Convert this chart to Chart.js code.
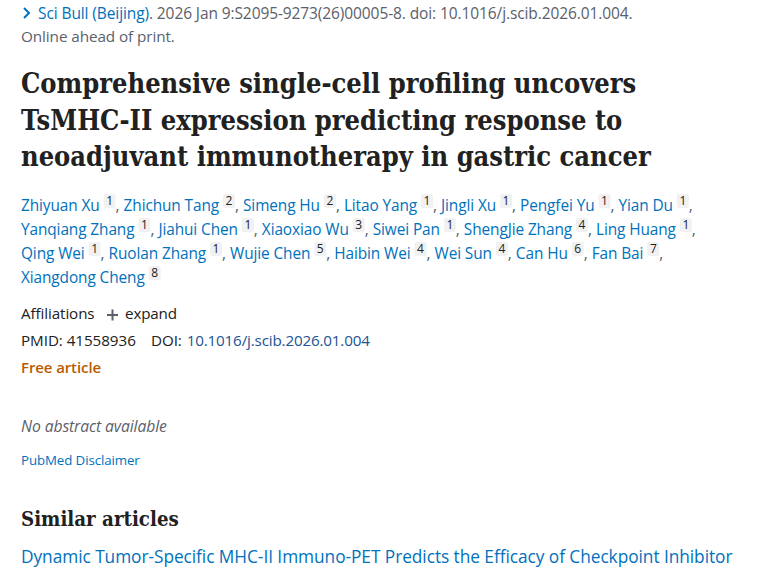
<!DOCTYPE html>
<html>
<head>
<meta charset="utf-8">
<title>Comprehensive single-cell profiling uncovers TsMHC-II expression</title>
<script src="https://cdn.jsdelivr.net/npm/chart.js@4"></script>
<style>
html, body { margin: 0; padding: 0; background: #fff; }
canvas { display: block; }
</style>
</head>
<body>
<canvas id="myChart" width="760" height="570"></canvas>
<script>
// TEXT CONTENT (the reference is an article page, it has no plotted series)
const citationJournal = "Sci Bull (Beijing)";
const citationRest = ". 2026 Jan 9:S2095-9273(26)00005-8. doi: 10.1016/j.scib.2026.01.004.";
const citationNote = "Online ahead of print.";
const titleLines = [
    "Comprehensive single-cell profiling uncovers",
    "TsMHC-II expression predicting response to",
    "neoadjuvant immunotherapy in gastric cancer",
];
const authorNames = [
    ["Zhiyuan Xu", "Zhichun Tang", "Simeng Hu", "Litao Yang", "Jingli Xu", "Pengfei Yu", "Yian Du"],
    ["Yanqiang Zhang", "Jiahui Chen", "Xiaoxiao Wu", "Siwei Pan", "ShengJie Zhang", "Ling Huang"],
    ["Qing Wei", "Ruolan Zhang", "Wujie Chen", "Haibin Wei", "Wei Sun", "Can Hu", "Fan Bai"],
    ["Xiangdong Cheng"],
];
const authorAffils = [
    ["1", "2", "2", "1", "1", "1", "1"],
    ["1", "1", "3", "1", "4", "1"],
    ["1", "1", "5", "4", "4", "6", "7"],
    ["8"],
];

const BODY = '"Open Sans", sans-serif';
const SERIF = '"DejaVu Serif Condensed", "DejaVu Serif", serif';
const LINK = "#0071bc";
const INK = "#212121";
const GREY = "#5b616b";

function put(ctx, text, x, y, font, color, spacing) {
    ctx.font = font;
    ctx.fillStyle = color;
    ctx.letterSpacing = (spacing || 0) + "px";
    ctx.fillText(text, x, y);
    return x + ctx.measureText(text).width;
}

function drawAuthors(ctx) {
    authorNames.forEach(function (row, r) {
        const y = 211 + r * 24;
        let x = 21;
        row.forEach(function (name, i) {
            x = put(ctx, name, x, y, "15.4px " + BODY, LINK, -0.1);
            ctx.fillStyle = "#f1f1f1";
            ctx.beginPath();
            ctx.roundRect(x + 4, y - 17, 12, 14, 2);
            ctx.fill();
            ctx.textAlign = "center";
            put(ctx, authorAffils[r][i], x + 10, y - 6, "12px " + BODY, INK);
            ctx.textAlign = "left";
            x += 16;
            const isLast = r === authorNames.length - 1 && i === row.length - 1;
            if (!isLast) {
                x = put(ctx, ",", x, y, "15.4px " + BODY, GREY);
                if (i < row.length - 1) x += 4;
            }
        });
    });
}

const pagePlugin = {
    id: "page",
    beforeDraw(chart) {
        const ctx = chart.ctx;
        ctx.save();
        ctx.fillStyle = "#fff";
        ctx.fillRect(0, 0, chart.width, chart.height);
        ctx.restore();
    },
    afterDraw(chart) {
        const ctx = chart.ctx;
        ctx.save();
        ctx.textBaseline = "alphabetic";
        ctx.textAlign = "left";

        // citation
        ctx.strokeStyle = LINK;
        ctx.lineWidth = 2;
        ctx.beginPath();
        ctx.moveTo(24, 8);
        ctx.lineTo(29, 13);
        ctx.lineTo(24, 18);
        ctx.stroke();
        let x = put(ctx, citationJournal, 38, 19, "15.5px " + BODY, LINK, -0.1);
        put(ctx, citationRest, x, 19, "15.5px " + BODY, GREY, -0.1);
        put(ctx, citationNote, 21, 42, "15.3px " + BODY, GREY, -0.1);

        // title
        titleLines.forEach(function (line, i) {
            put(ctx, line, 21, 93 + i * 36.5, "bold 27px " + SERIF, INK, 0);
        });

        drawAuthors(ctx);

        // affiliations, ids
        put(ctx, "Affiliations", 21, 319, "15.2px " + BODY, INK, -0.1);
        ctx.strokeStyle = "#5b616b";
        ctx.lineWidth = 2;
        ctx.beginPath();
        ctx.moveTo(107, 315);
        ctx.lineTo(118, 315);
        ctx.moveTo(112.5, 309.5);
        ctx.lineTo(112.5, 320.5);
        ctx.stroke();
        put(ctx, "expand", 125, 319, "15.2px " + BODY, INK, -0.15);
        put(ctx, "PMID: 41558936", 21, 346, "15.2px " + BODY, INK, -0.05);
        x = put(ctx, "DOI:", 151, 346, "15.2px " + BODY, INK, -0.1);
        put(ctx, "10.1016/j.scib.2026.01.004", x + 5, 346, "15.2px " + BODY, "#205493", -0.16);
        put(ctx, "Free article", 21, 373, "600 15px " + BODY, "#b85c00", -0.1);

        // abstract
        put(ctx, "No abstract available", 21, 432, "italic 15.7px " + BODY, GREY, -0.1);
        put(ctx, "PubMed Disclaimer", 21, 465, "13.3px " + BODY, LINK, -0.1);

        // similar articles
        put(ctx, "Similar articles", 21, 526, "bold 20.3px " + SERIF, INK, 0);
        put(ctx, "Dynamic Tumor-Specific MHC-II Immuno-PET Predicts the Efficacy of Checkpoint Inhibitor", 21, 563, "17.3px " + BODY, LINK, -0.05);
        ctx.restore();
    },
};

const config = {
    type: "scatter",
    data: { datasets: [] },
    options: {
        responsive: false,
        animation: false,
        devicePixelRatio: 1,
        events: [],
        scales: {
            x: { display: false },
            y: { display: false },
        },
        plugins: {
            legend: { display: false },
            tooltip: { enabled: false },
        },
    },
    plugins: [pagePlugin],
};

const canvas = document.getElementById("myChart");
const myChart = new Chart(canvas.getContext("2d", { alpha: false }), config);
</script>
</body>
</html>
